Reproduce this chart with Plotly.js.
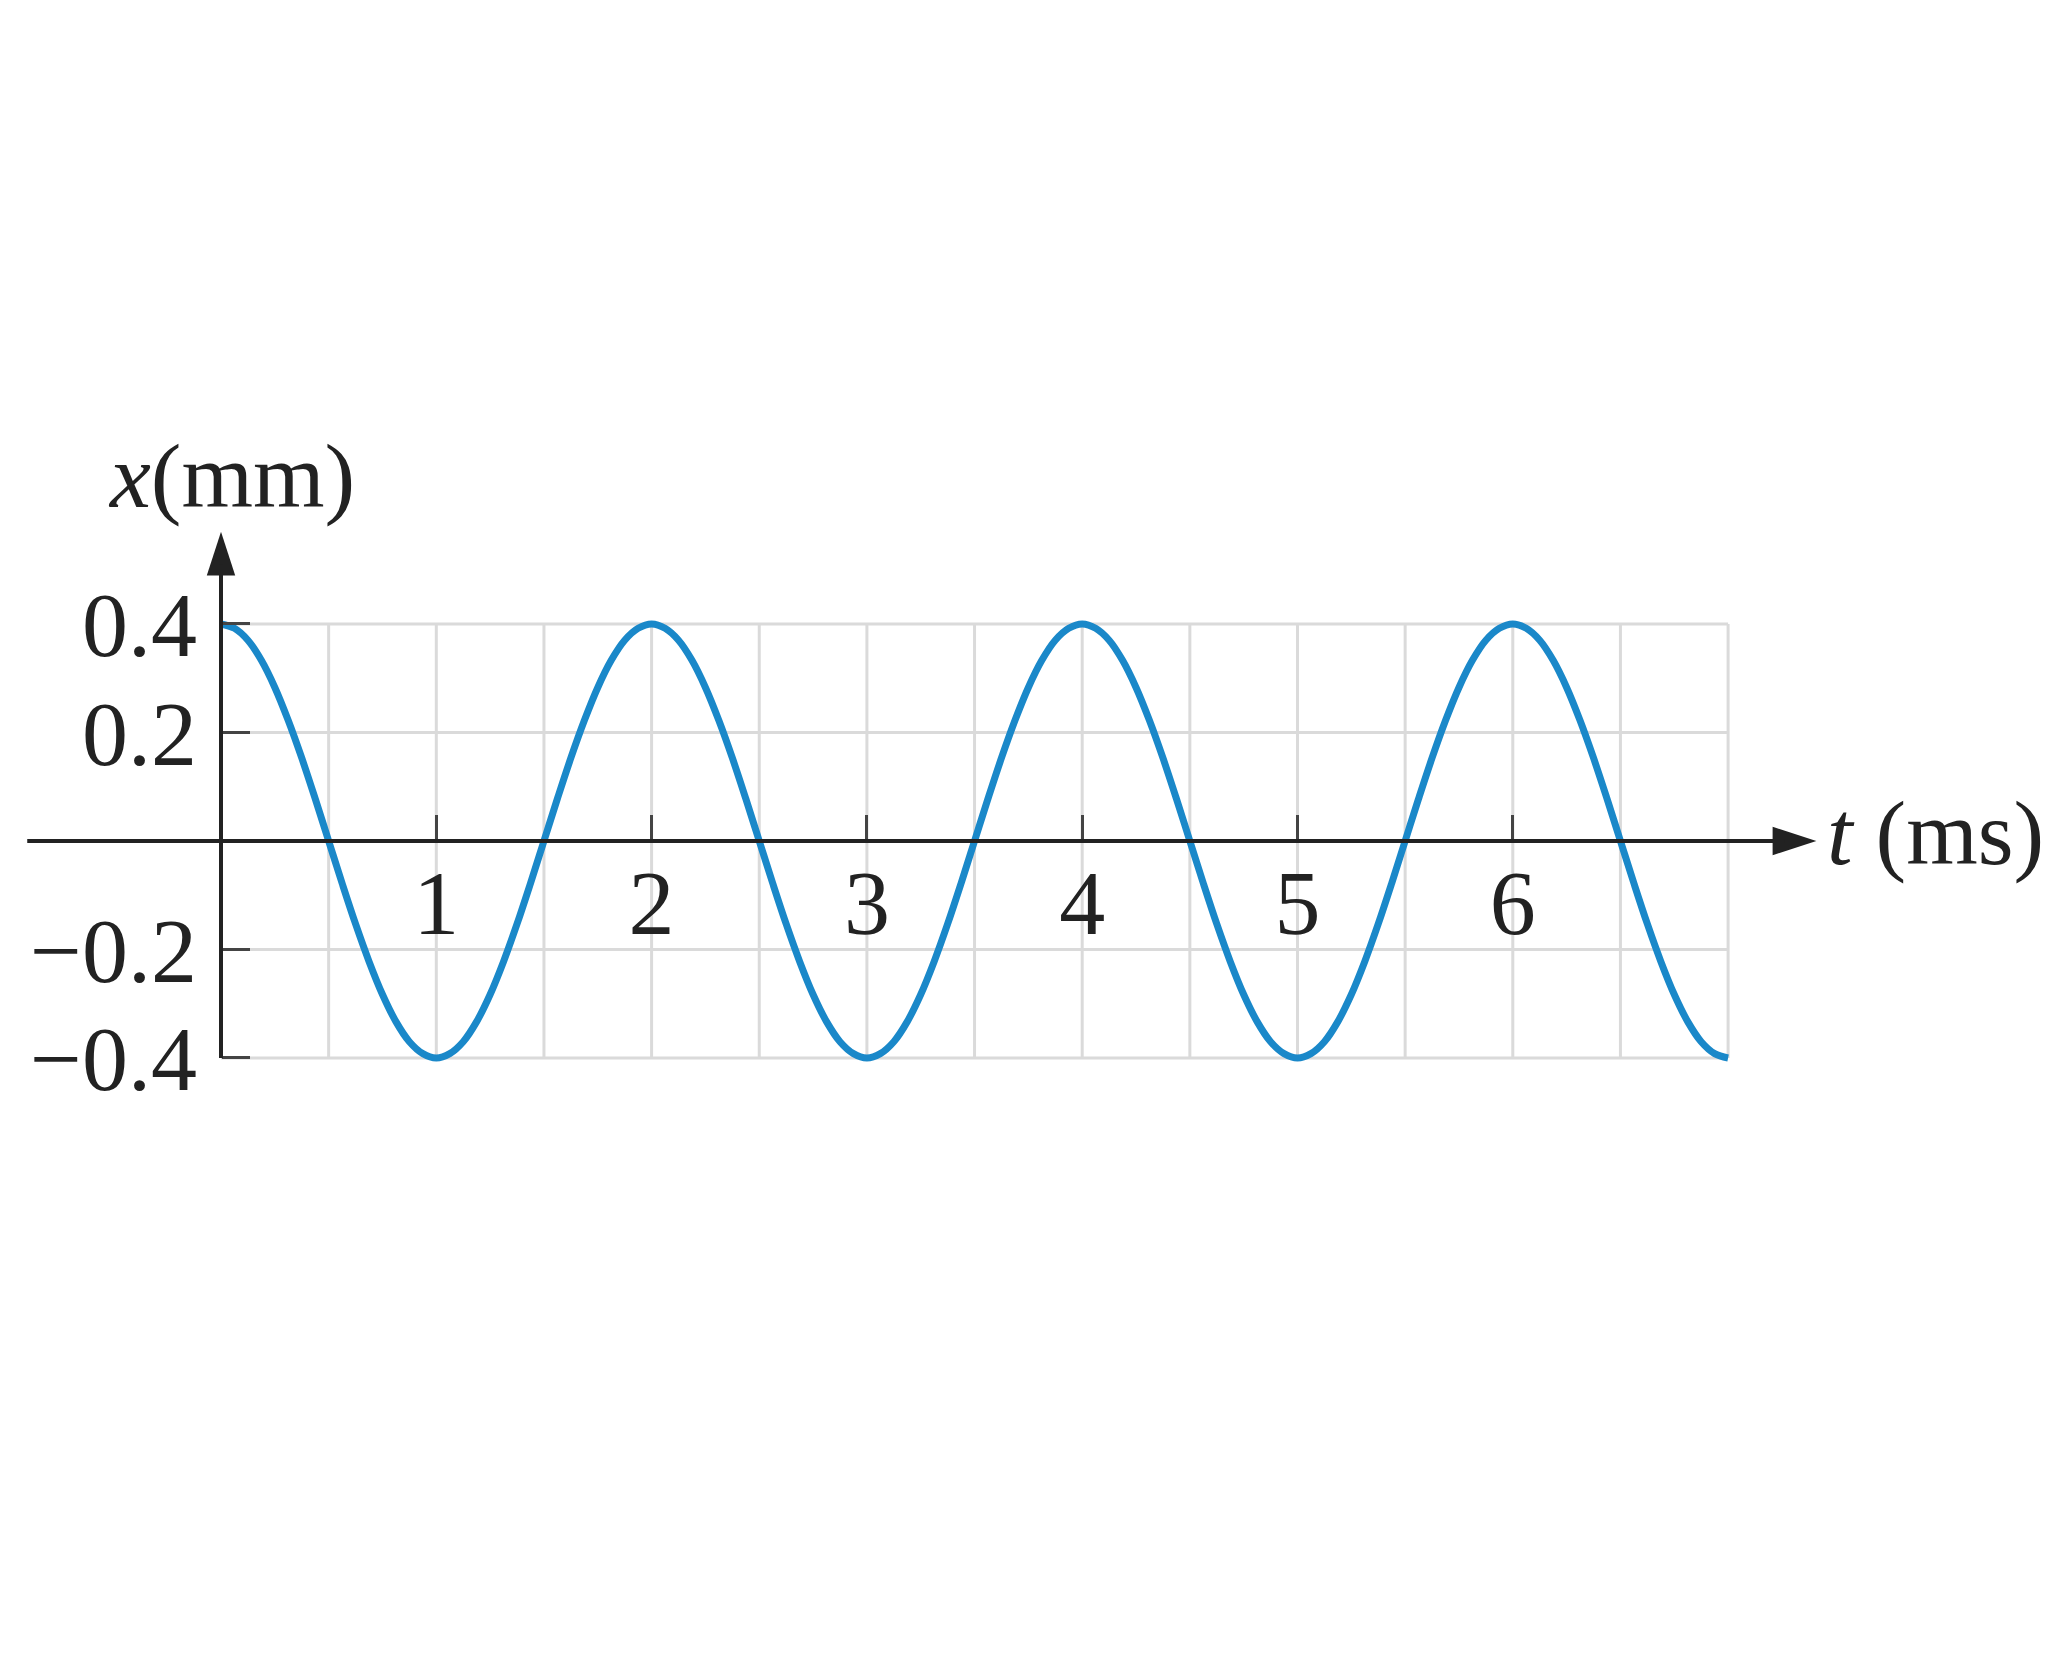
<!DOCTYPE html>
<html>
<head>
<meta charset="utf-8">
<script src="https://cdn.plot.ly/plotly-3.0.1.min.js"></script>
<style>
  html, body { margin: 0; padding: 0; background: #fff; }
  #chart { width: 2046px; height: 1662px; }
</style>
</head>
<body>
<div id="chart"></div>
<script>
// displacement x (mm), every 1/16 ms
const timeMs = [
  0, 0.0625, 0.125, 0.1875, 0.25, 0.3125, 0.375, 0.4375,
  0.5, 0.5625, 0.625, 0.6875, 0.75, 0.8125, 0.875, 0.9375,
  1, 1.0625, 1.125, 1.1875, 1.25, 1.3125, 1.375, 1.4375,
  1.5, 1.5625, 1.625, 1.6875, 1.75, 1.8125, 1.875, 1.9375,
  2, 2.0625, 2.125, 2.1875, 2.25, 2.3125, 2.375, 2.4375,
  2.5, 2.5625, 2.625, 2.6875, 2.75, 2.8125, 2.875, 2.9375,
  3, 3.0625, 3.125, 3.1875, 3.25, 3.3125, 3.375, 3.4375,
  3.5, 3.5625, 3.625, 3.6875, 3.75, 3.8125, 3.875, 3.9375,
  4, 4.0625, 4.125, 4.1875, 4.25, 4.3125, 4.375, 4.4375,
  4.5, 4.5625, 4.625, 4.6875, 4.75, 4.8125, 4.875, 4.9375,
  5, 5.0625, 5.125, 5.1875, 5.25, 5.3125, 5.375, 5.4375,
  5.5, 5.5625, 5.625, 5.6875, 5.75, 5.8125, 5.875, 5.9375,
  6, 6.0625, 6.125, 6.1875, 6.25, 6.3125, 6.375, 6.4375,
  6.5, 6.5625, 6.625, 6.6875, 6.75, 6.8125, 6.875, 6.9375,
  7
];
const displacementMm = [
  0.4, 0.392, 0.37, 0.333, 0.283, 0.222, 0.153, 0.078,
  0, -0.078, -0.153, -0.222, -0.283, -0.333, -0.37, -0.392,
  -0.4, -0.392, -0.37, -0.333, -0.283, -0.222, -0.153, -0.078,
  0, 0.078, 0.153, 0.222, 0.283, 0.333, 0.37, 0.392,
  0.4, 0.392, 0.37, 0.333, 0.283, 0.222, 0.153, 0.078,
  0, -0.078, -0.153, -0.222, -0.283, -0.333, -0.37, -0.392,
  -0.4, -0.392, -0.37, -0.333, -0.283, -0.222, -0.153, -0.078,
  0, 0.078, 0.153, 0.222, 0.283, 0.333, 0.37, 0.392,
  0.4, 0.392, 0.37, 0.333, 0.283, 0.222, 0.153, 0.078,
  0, -0.078, -0.153, -0.222, -0.283, -0.333, -0.37, -0.392,
  -0.4, -0.392, -0.37, -0.333, -0.283, -0.222, -0.153, -0.078,
  0, 0.078, 0.153, 0.222, 0.283, 0.333, 0.37, 0.392,
  0.4, 0.392, 0.37, 0.333, 0.283, 0.222, 0.153, 0.078,
  0, -0.078, -0.153, -0.222, -0.283, -0.333, -0.37, -0.392,
  -0.4
];

const xTicks = [1, 2, 3, 4, 5, 6];
const yTicks = [-0.4, -0.2, 0.2, 0.4];
const yTickText = ['\u22120.4', '\u22120.2', '0.2', '0.4'];
const gridTimes = [0.5, 1, 1.5, 2, 2.5, 3, 3.5, 4, 4.5, 5, 5.5, 6, 6.5, 7];
const gridValues = [-0.4, -0.2, 0.2, 0.4];

// axis extents and arrow tips, in data units
const tAxisFrom = -0.9, tAxisTip = 7.41;
const xAxisFrom = -0.4, xAxisTip = 0.57;

const serif = 'Liberation Serif, Times New Roman, serif';
const ink = '#222';

const shapes = [];
gridTimes.forEach(t => shapes.push({
  type: 'line', xref: 'x', yref: 'y', x0: t, x1: t, y0: -0.4, y1: 0.4,
  line: {color: '#dadada', width: 3}, layer: 'below'
}));
gridValues.forEach(v => shapes.push({
  type: 'line', xref: 'x', yref: 'y', x0: 0, x1: 7, y0: v, y1: v,
  line: {color: '#dadada', width: 3}, layer: 'below'
}));
// the two axis lines
shapes.push({
  type: 'line', xref: 'x', yref: 'y', x0: tAxisFrom, x1: tAxisTip - 0.15, y0: 0, y1: 0,
  line: {color: ink, width: 4}, layer: 'above'
});
shapes.push({
  type: 'line', xref: 'x', yref: 'y', x0: 0, x1: 0, y0: xAxisFrom, y1: xAxisTip - 0.06,
  line: {color: ink, width: 4}, layer: 'above'
});

const curve = {
  x: timeMs,
  y: displacementMm,
  type: 'scatter',
  mode: 'lines',
  line: {color: '#1a88c9', width: 7, shape: 'spline', smoothing: 1},
  hoverinfo: 'skip'
};

const arrowHeads = {
  x: [tAxisTip, 0],
  y: [0, xAxisTip],
  type: 'scatter',
  mode: 'markers',
  cliponaxis: false,
  marker: {symbol: 'arrow', size: 46, angle: [90, 0], color: ink, line: {width: 0}},
  hoverinfo: 'skip'
};

const layout = {
  width: 2046,
  height: 1662,
  margin: {l: 0, r: 0, t: 0, b: 0},
  paper_bgcolor: '#fff',
  plot_bgcolor: '#fff',
  showlegend: false,
  xaxis: {
    range: [-1.0265, 8.4766],
    anchor: 'free',
    position: 0.494,
    showgrid: false, zeroline: false, showline: false,
    ticks: 'inside', ticklen: 26, tickwidth: 3, tickcolor: '#444',
    tickvals: xTicks,
    ticklabelstandoff: 0,
    tickfont: {family: serif, size: 92, color: ink}
  },
  yaxis: {
    range: [-1.5134, 1.5502],
    anchor: 'free',
    position: 0.108,
    showgrid: false, zeroline: false, showline: false,
    ticks: 'inside', ticklen: 28, tickwidth: 3, tickcolor: '#444',
    tickvals: yTicks,
    ticktext: yTickText,
    ticklabelstandoff: 24,
    tickfont: {family: serif, size: 92, color: ink}
  },
  shapes: shapes,
  annotations: [
    {
      xref: 'x', yref: 'y', x: 0.05, y: 0.673, xanchor: 'center', yanchor: 'middle',
      text: '<i>x</i>(mm)', showarrow: false,
      font: {family: serif, size: 92, color: ink}
    },
    {
      xref: 'x', yref: 'y', x: 7.45, y: 0.015, xanchor: 'left', yanchor: 'middle',
      text: '<i>t</i> (ms)', showarrow: false,
      font: {family: serif, size: 92, color: ink}
    }
  ]
};

Plotly.newPlot('chart', [curve, arrowHeads], layout, {staticPlot: true, displayModeBar: false});
</script>
</body>
</html>
